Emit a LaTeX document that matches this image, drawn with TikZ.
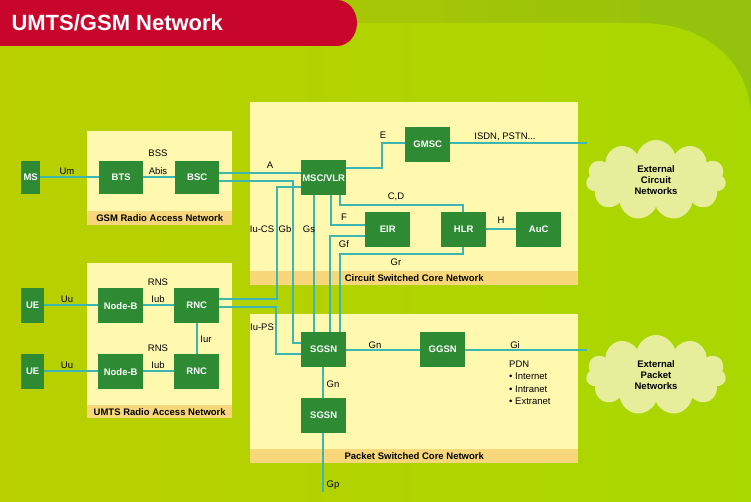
\documentclass[tikz,border=0pt]{standalone}
\usepackage{fontspec}
\setmainfont{Liberation Sans}
\usetikzlibrary{shapes.symbols}
\definecolor{lime}{HTML}{BCD300}
\definecolor{limedark}{HTML}{95C20C}
\definecolor{boxy}{HTML}{FFF9B0}
\definecolor{band}{HTML}{F7D77A}
\definecolor{ng}{HTML}{2E8B34}
\definecolor{ln}{HTML}{3DB5B0}
\definecolor{tred}{HTML}{C8062C}
\definecolor{cloudc}{HTML}{E6EE9C}
\begin{document}
\begin{tikzpicture}[x=1pt,y=-1pt,
 nd/.style={fill=ng,text=white,font=\fontsize{9.5}{10}\selectfont\bfseries,inner sep=0pt,anchor=north west},
 ln/.style={draw=ln,line width=1.4pt},
 lb/.style={font=\fontsize{9.5}{10}\selectfont,inner sep=1pt},
 area/.style={fill=boxy},
 bnd/.style={fill=band,font=\fontsize{9.5}{10}\selectfont\bfseries,inner sep=0pt}]
\useasboundingbox (0,0) rectangle (751,502);
\shade[left color=lime!95!olive,right color=lime!90!green] (0,0) rectangle (751,502);
\shade[left color=lime!90!olive,right color=limedark] (0,0) rectangle (751,23);
\fill[limedark] (640,23) .. controls (700,23) and (745,55) .. (751,110) -- (751,0) -- (640,0) -- cycle;
\fill[tred] (0,0) -- (337,0) arc[start angle=-90,end angle=90,x radius=20,y radius=23] -- (0,46) -- cycle;
\node[text=white,font=\fontsize{22}{24}\selectfont\bfseries,anchor=west] (title) at (8,23) {UMTS/GSM Network};
% areas
\fill[area] (87,131) rectangle (232,225);
\node[bnd,minimum width=145pt,minimum height=14pt,anchor=north west] (gsmb) at (87,211) {GSM Radio Access Network};
\fill[area] (87,263) rectangle (232,418);
\node[bnd,minimum width=145pt,minimum height=13pt,anchor=north west] (umb) at (87,405) {UMTS Radio Access Network};
\fill[area] (250,102) rectangle (578,285);
\node[bnd,minimum width=328pt,minimum height=14pt,anchor=north west] (csb) at (250,271) {Circuit Switched Core Network};
\fill[area] (250,314) rectangle (578,463);
\node[bnd,minimum width=328pt,minimum height=14pt,anchor=north west] (psb) at (250,449) {Packet Switched Core Network};
% clouds
\node[cloud,cloud puffs=11,aspect=1.8,fill=cloudc,minimum width=140pt,minimum height=80pt,align=center,font=\fontsize{9.5}{11}\selectfont\bfseries] (ecn) at (656,180) {External\\Circuit\\Networks};
\node[cloud,cloud puffs=11,aspect=1.8,fill=cloudc,minimum width=140pt,minimum height=80pt,align=center,font=\fontsize{9.5}{11}\selectfont\bfseries] (epn) at (656,375) {External\\Packet\\Networks};
\coordinate (gp) at (323,492);
% lines
\draw[ln] (30,177) -- (121,177);
\draw[ln] (121,177) -- (196,177);
\draw[ln] (218,173) -- (301,173);
\draw[ln] (218,181) -- (293,181) -- (293,343) -- (301,343);
\draw[ln] (219,299) -- (277,299) -- (277,187) -- (301,187);
\draw[ln] (219,307) -- (276,307) -- (276,354) -- (301,354);
\draw[ln] (314,195) -- (314,332);
\draw[ln] (331,195) -- (331,225) -- (365,225);
\draw[ln] (365,236) -- (330,236) -- (330,332);
\draw[ln] (463,247) -- (463,254) -- (340,254) -- (340,332);
\draw[ln] (340,195) -- (340,205) -- (463,205) -- (463,212);
\draw[ln] (346,168) -- (382,168) -- (382,143) -- (405,143);
\draw[ln] (450,143) -- (ecn.west |- 0,143);
\draw[ln] (486,229) -- (516,229);
\draw[ln] (30,305) -- (196,305);
\draw[ln] (30,371) -- (196,371);
\draw[ln] (197,323) -- (197,354);
\draw[ln] (346,350) -- (420,350);
\draw[ln] (465,350) -- (epn.west |- 0,350);
\draw[ln] (323,367) -- (323,398);
\draw[ln] (323,433) -- (gp);
% nodes
\node[nd,minimum width=19pt,minimum height=33pt] (ms) at (21,161) {MS};
\node[nd,minimum width=44pt,minimum height=33pt] (bts) at (99,161) {BTS};
\node[nd,minimum width=44pt,minimum height=33pt] (bsc) at (175,161) {BSC};
\node[nd,minimum width=45pt,minimum height=35pt] (msc) at (301,160) {MSC/VLR};
\node[nd,minimum width=45pt,minimum height=35pt] (gmsc) at (405,127) {GMSC};
\node[nd,minimum width=45pt,minimum height=35pt] (eir) at (365,212) {EIR};
\node[nd,minimum width=45pt,minimum height=35pt] (hlr) at (441,212) {HLR};
\node[nd,minimum width=45pt,minimum height=35pt] (auc) at (516,212) {AuC};
\node[nd,minimum width=23pt,minimum height=35pt] (ue1) at (21,288) {UE};
\node[nd,minimum width=45pt,minimum height=35pt] (nb1) at (98,288) {Node-B};
\node[nd,minimum width=45pt,minimum height=35pt] (rnc1) at (174,288) {RNC};
\node[nd,minimum width=23pt,minimum height=35pt] (ue2) at (21,354) {UE};
\node[nd,minimum width=45pt,minimum height=35pt] (nb2) at (98,354) {Node-B};
\node[nd,minimum width=45pt,minimum height=35pt] (rnc2) at (174,354) {RNC};
\node[nd,minimum width=45pt,minimum height=35pt] (sgsn1) at (301,332) {SGSN};
\node[nd,minimum width=45pt,minimum height=35pt] (ggsn) at (420,332) {GGSN};
\node[nd,minimum width=45pt,minimum height=35pt] (sgsn2) at (301,398) {SGSN};
% labels
\node[lb] at (67,171) {Um};
\node[lb] at (158,171) {Abis};
\node[lb] at (158,153) {BSS};
\node[lb] at (270,165) {A};
\node[lb] at (262,229) {Iu-CS};
\node[lb] at (285,229) {Gb};
\node[lb] at (309,229) {Gs};
\node[lb] at (344,217) {F};
\node[lb] at (344,244) {Gf};
\node[lb] at (396,262) {Gr};
\node[lb] at (396,197) {C,D};
\node[lb] at (383,135) {E};
\node[lb] at (505,137) {ISDN, PSTN...};
\node[lb] at (501,220) {H};
\node[lb] at (67,299) {Uu};
\node[lb] at (67,365) {Uu};
\node[lb] at (158,282) {RNS};
\node[lb] at (158,348) {RNS};
\node[lb] at (158,299) {Iub};
\node[lb] at (158,365) {Iub};
\node[lb] at (206,339) {Iur};
\node[lb] at (262,327) {Iu-PS};
\node[lb] at (375,345) {Gn};
\node[lb] at (515,345) {Gi};
\node[lb] at (333,384) {Gn};
\node[lb] at (333,485) {Gp};
\node[lb,anchor=west,align=left,font=\fontsize{9.5}{12.5}\selectfont] at (508,383) {PDN\\ \textbullet\ Internet\\ \textbullet\ Intranet\\ \textbullet\ Extranet};
\end{tikzpicture}
\end{document}
